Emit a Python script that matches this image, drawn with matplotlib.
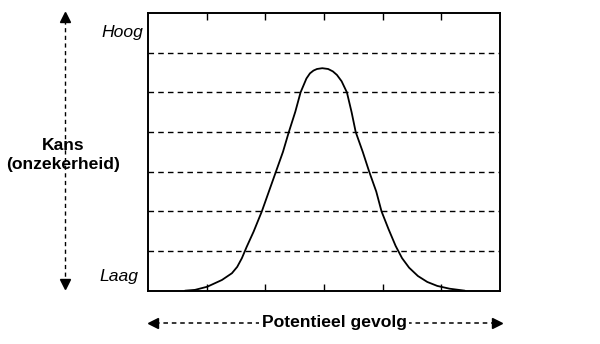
"""
Kans (onzekerheid) tegen potentieel gevolg: klokvormige verdeling.
"""

import matplotlib.pyplot as plt
import matplotlib.ticker as mticker

# curve (x: gevolg 0..6, y: kans 0..7)
gevolg = [0.63, 0.80, 1.01, 1.26, 1.43, 1.52, 1.60, 1.68, 1.80, 1.94, 2.06,
          2.18, 2.30, 2.40, 2.51, 2.60, 2.70, 2.76, 2.82, 2.88, 2.97, 3.07,
          3.15, 3.22, 3.30, 3.39, 3.47, 3.54, 3.66, 3.77, 3.89, 3.98, 4.10,
          4.22, 4.33, 4.45, 4.60, 4.76, 4.93, 5.14, 5.40]
kans = [0.00, 0.02, 0.10, 0.27, 0.44, 0.60, 0.82, 1.10, 1.49, 2.00, 2.50,
        3.00, 3.50, 4.00, 4.51, 5.00, 5.35, 5.48, 5.55, 5.59, 5.61, 5.59,
        5.53, 5.44, 5.28, 5.00, 4.50, 4.00, 3.50, 3.00, 2.50, 2.00, 1.55,
        1.13, 0.82, 0.58, 0.37, 0.22, 0.12, 0.05, 0.00]
grid_levels = [1, 2, 3, 4, 5, 6]
x_ticks = [1, 2, 3, 4, 5]
FONT = "Liberation Sans"
FONTSIZE = 12.6

fig = plt.figure(figsize=(6, 3.44), dpi=100)
ax = fig.add_axes([0.2467, 0.155, 0.5867, 0.807])

for level in grid_levels:
    ax.axhline(level, color="black", linewidth=1, linestyle=(0, (4, 3)))
ax.plot(gevolg, kans, color="black", linewidth=1.3, solid_joinstyle="round",
        solid_capstyle="round")

ax.set_xlim(0, 6)
ax.set_ylim(0, 7)
ax.xaxis.set_major_locator(mticker.FixedLocator(x_ticks))
ax.tick_params(axis="x", direction="in", length=5, width=1, top=True,
               bottom=True, labelbottom=False)
ax.set_yticks([])
for spine in ax.spines.values():
    spine.set_linewidth(1.4)

# overlay in pixel coordinates for the arrows and labels
over = fig.add_axes([0, 0, 1, 1], zorder=-1)
over.set_xlim(0, 600)
over.set_ylim(344, 0)
over.axis("off")

# vertical double arrow
over.plot([65, 65], [20, 281], color="black", linewidth=1,
          linestyle=(0, (3, 2.5)))
over.plot(65, 17, marker="^", color="black", markersize=7)
over.plot(65, 284, marker="v", color="black", markersize=7)

# horizontal double arrow
over.plot([155, 495], [323, 323], color="black", linewidth=1.1,
          linestyle=(0, (3, 2.5)))
over.plot(153, 323, marker="<", color="black", markersize=7)
over.plot(497, 323, marker=">", color="black", markersize=7)

over.text(334, 323, "Potentieel gevolg", ha="center", va="center",
          fontsize=FONTSIZE, fontweight="bold", family=FONT,
          bbox=dict(facecolor="white", edgecolor="none", pad=1.5))
over.text(63.5, 155, "Kans\n(onzekerheid)", ha="center", va="center",
          fontsize=FONTSIZE, fontweight="bold", family=FONT,
          linespacing=1.3)
over.text(143, 33, "Hoog", ha="right", va="center", fontsize=FONTSIZE,
          fontstyle="italic", family=FONT)
over.text(138, 276, "Laag", ha="right", va="center", fontsize=FONTSIZE,
          fontstyle="italic", family=FONT)

plt.savefig("out.png", dpi=100)
